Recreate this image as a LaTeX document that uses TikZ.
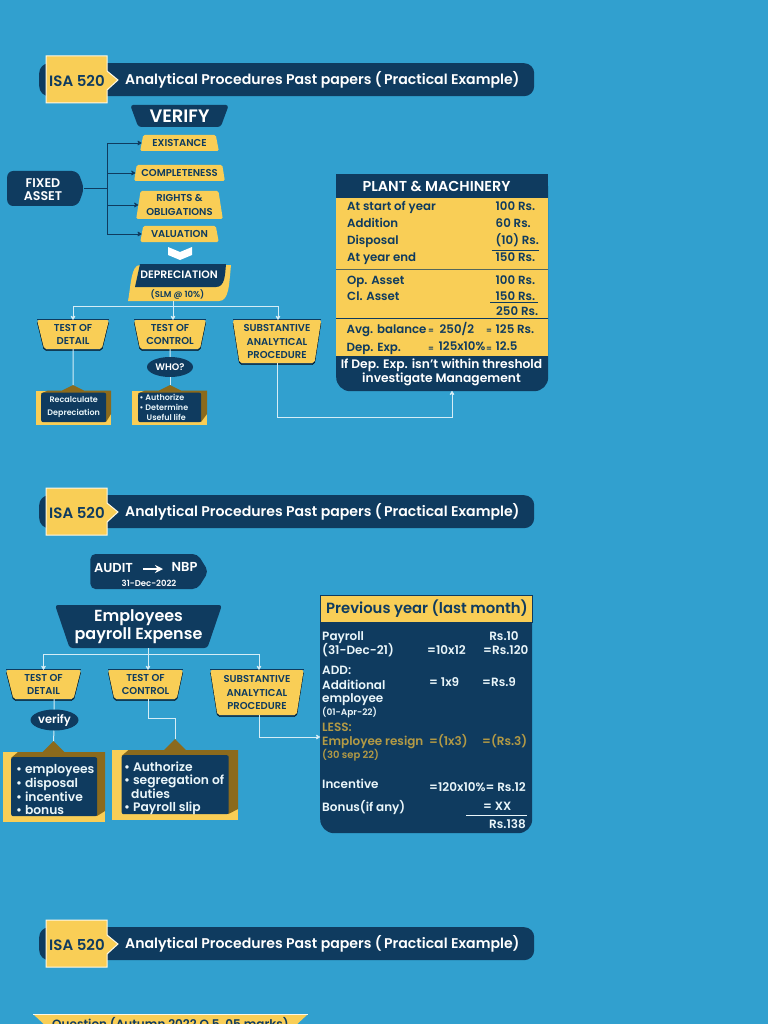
\documentclass[tikz,border=0pt]{standalone}
\usepackage{fontspec}
\setmainfont{Poppins}[BoldFont=* SemiBold]
\usetikzlibrary{arrows.meta, positioning, shapes.geometric, shapes.symbols, shadows}
\definecolor{sky}{HTML}{31A0CF}
\definecolor{navy}{HTML}{0F3B5F}
\definecolor{gold}{HTML}{F9CE56}
\definecolor{umber}{HTML}{8B6A1C}
\definecolor{pale}{HTML}{D5EDF6}
\definecolor{dimgold}{HTML}{B39A45}
\newcommand*{\fsize}[1]{\bfseries\fontsize{#1}{#1}\selectfont}
\newcommand*{\fline}[2]{\bfseries\fontsize{#1}{#2}\selectfont}
% name, yellow box x1 y1 x2 y2, inset x y, tab x, tab apex y
\newcommand*{\notebox}[9]{
  \fill[gold] (#2,#3) rectangle (#4,#5);
  \fill[umber] ({#2+#6+7},#3) -- ({#8-11},#3) -- (#8,#9) -- ({#8+11},#3) -- (#4,#3)
    -- (#4,{#5-11}) -- ({#4-#6},{#5-#7}) -- ({#2+#6},{#3+#7}) -- cycle;
  \node[panel={(#4-#2-2*#6)*1pt}{(#5-#3-#7-#7+1)*1pt}, fill=navy, rounded corners=2pt] (#1) at ({#2+#6},{#3+#7-1}) {};
  \coordinate (#1tab) at (#8,#9);
}
\newcommand*{\isabanner}[2]{
  \node[panel={495pt}{33pt}, fill=navy, rounded corners=10pt] (#1bar) at (39,#2) {};
  \draw[draw=white!85!gold, line width=1pt, fill=gold] (46,{#2-7}) -- (107,{#2-7}) -- (107,{#2+8})
    -- (118,{#2+17}) -- (107,{#2+27}) -- (107,{#2+40}) -- (46,{#2+40}) -- cycle;
  \node[font=\fsize{15}, text=navy, inner sep=0] (#1isa) at (77,{#2+18}) {ISA 520};
  \node[font=\fsize{14.1}, text=white, inner sep=0, anchor=west] (#1title) at (125,{#2+17})
    {Analytical Procedures Past papers (\,Practical Example)};
}
\tikzset{
  panel/.style 2 args={anchor=north west, inner sep=0, minimum width=#1, minimum height=#2},
  tapbox/.style={shape=trapezium, trapezium stretches=true, inner sep=0, align=center},
  itembox/.style={tapbox, fill=gold, text=navy, trapezium angle=72, rounded corners=1.5pt,
    minimum height=16pt, font=\fline{10}{14}},
  testbox/.style={tapbox, fill=gold, text=navy, shape border rotate=180, trapezium angle=77,
    rounded corners=2pt, draw=none, font=\fline{10}{13.5},
    copy shadow={fill=navy, shadow xshift=0pt, shadow yshift=-1.5pt},
    append after command={(\tikzlastnode.bottom left corner) edge[navyline, line width=1.2pt] (\tikzlastnode.bottom right corner)}},
  navyhead/.style={tapbox, fill=navy, text=white, shape border rotate=180, rounded corners=3pt},
  oval/.style={ellipse, fill=navy, text=white, inner sep=0},
  navyline/.style={draw=navy, line width=.8pt},
  paleline/.style={draw=pale, line width=1pt},
  cell/.style={anchor=west, inner sep=0, yshift=-2pt, text=navy, text height=8pt, text depth=2.5pt, font=\fsize{11.8}},
  inkcell/.style={anchor=west, inner sep=0, yshift=-2pt, text=pale!50!white, text height=8pt, text depth=2.5pt, font=\fsize{12}},
  note/.style={anchor=west, inner sep=0, text=pale!50!white, align=left},
  rule/.style={draw=navy, line width=.8pt},
  inkrule/.style={draw=pale!50!white, line width=.8pt},
  tip/.style={-{Stealth[round, length=5pt, width=6pt]}}
}
\begin{document}
\begin{tikzpicture}[x=1pt, y=-1pt]
  \useasboundingbox (0,0) rectangle (768,1024);
  \clip (0,0) rectangle (768,1024);
  \fill[sky] (0,0) rectangle (768,1024);

  %% first part
  \isabanner{one}{63}
  \node[navyhead, trapezium angle=65, minimum width=99pt, minimum height=22pt, font=\fsize{18}] (verify) at (179.5,116) {VERIFY};
  \node[signal, signal to=east, signal pointer angle=140, fill=navy, inner sep=0, rounded corners=6pt,
    minimum width=77pt, minimum height=35pt] (fixed) at (42.5,188.5) {};
  \node[text=white, inner sep=0, align=center, font=\fline{12.6}{13}] (fixedtext) at (43,189.5) {FIXED\\ASSET};
  \node[itembox, minimum width=79pt] (existance) at (179.5,143) {EXISTANCE};
  \node[itembox, minimum width=91pt] (complete) at (179.5,173) {COMPLETENESS};
  \node[itembox, minimum width=87pt, minimum height=28pt, trapezium angle=80] (rights) at (179.5,205) {RIGHTS \&\\OBLIGATIONS};
  \node[itembox, minimum width=79pt] (valuation) at (179.5,234) {VALUATION};
  \coordinate (trunk) at (107,188.5);
  \draw[navyline] (fixed.east) -- (trunk);
  \draw[navyline, tip] (trunk) |- (existance.west);
  \draw[navyline, tip] (trunk) |- (complete.west);
  \draw[navyline, tip] (trunk) |- (rights.west);
  \draw[navyline, tip] (trunk) |- (valuation.west);
  \fill[white] (168,247) -- (180,252) -- (192,247) -- (192,255) -- (180,260) -- (168,255) -- cycle;

  \fill[gold] (128,301) .. controls (131,285) and (131,265) .. (140,265) -- (231,265)
    .. controls (229,285) and (229,301) .. (219,301) -- cycle;
  \fill[navy] (140,264) -- (226,264) .. controls (225,275) and (225,287) .. (216,287) -- (135,287) -- cycle;
  \node[text=white, inner sep=0, font=\fsize{10.8}] (deprec) at (179,275) {DEPRECIATION};
  \node[text=navy, inner sep=0, font=\fsize{8.5}] (slm) at (177.5,294) {(SLM @ 10\%)};
  \coordinate (depfoot) at (173,301);
  \coordinate (deprail) at (173,306);

  \node[testbox, minimum width=72pt, minimum height=29pt] (detailA) at (73,334.5) {TEST OF\\DETAIL};
  \node[testbox, minimum width=72pt, minimum height=29pt] (controlA) at (170,334.5) {TEST OF\\CONTROL};
  \node[testbox, minimum width=89pt, minimum height=43pt, trapezium angle=80] (substA) at (277,341.5) {SUBSTANTIVE\\ANALYTICAL\\PROCEDURE};
  \node[oval, minimum width=46pt, minimum height=20pt, font=\fsize{9.5}] (who) at (170,367) {WHO?};
  \notebox{recalc}{36}{390.5}{111}{425}{5}{3}{73}{385}
  \notebox{author}{132}{390.5}{207}{425}{6}{3}{170}{385}
  \node[note, align=center, anchor=center, font=\fline{8}{13}] (recalctext) at (recalc.center) {Recalculate\\Depreciation};
  \node[note, font=\fline{8}{9.8}] (authortext) at (139.5,407.5) {• Authorize\\• Determine\\\hspace*{7pt}Useful life};

  \draw[paleline] (depfoot) -- (deprail);
  \draw[paleline, tip] (deprail) -| (detailA.north);
  \draw[paleline, tip] (deprail) -- (deprail |- controlA.north);
  \draw[paleline, tip] (deprail) -| (substA.north -| 278,0);
  \draw[paleline] (detailA) -- (recalctab);
  \draw[paleline] (controlA) -- (who);
  \draw[paleline] (who) -- (authortab);

  % plant table
  \node[panel={212pt}{217pt}, fill=navy, rounded corners=14pt] (plant) at (336,174) {};
  \fill[navy] (336,174) rectangle (548,198);
  \fill[gold] (336,198) rectangle (548,356);
  \node[text=white, inner sep=0, font=\fsize{14.4}] (planttitle) at (436.5,186) {PLANT \& MACHINERY};
  \foreach \i/\y/\lab/\val in {1/206/At start of year/100 Rs., 2/223/Addition/60 Rs., 3/240/Disposal/(10) Rs., 4/257/At year end/150 Rs., 5/279.5/Op. Asset/100 Rs., 6/296/Cl. Asset/150 Rs.}{
    \node[cell] (plab\i) at (347,\y) {\lab};
    \node[cell] (pval\i) at (495.5,\y) {\val};
  }
  \node[cell] (pval7) at (496,311) {250 Rs.};
  \draw[rule] (491.5,250.5) -- (539,250.5);
  \draw[rule] (490,302.5) -- (537.5,302.5);
  \draw[navy!70!gold, line width=1pt] (336,269) -- (548,269);
  \draw[navy, line width=1pt] (336,318.5) -- (548,318.5);
  \node[cell] (avg) at (346.5,328.5) {Avg. balance};
  \node[cell] (half) at (439.5,328.5) {250/2};
  \node[cell] (avgval) at (495.5,328.5) {125 Rs.};
  \node[cell] (depexp) at (346.5,346.5) {Dep. Exp.};
  \node[cell] (rate) at (438.5,346) {125x10\%};
  \node[cell] (depval) at (495.5,346) {12.5};
  \foreach \i/\x/\y in {1/428/329, 2/486/329, 3/428/346.5, 4/486/346.5}{
    \node[cell, font=\fsize{8}] (equal\i) at (\x,\y) {=};
  }
  \node[text=white, inner sep=0, align=center, font=\fline{12.3}{12.5}] (plantnote) at (441.5,372) {If Dep. Exp. isn't within threshold\\investigate Management};
  \coordinate (plantfoot) at (452,391);
  \coordinate (plantbend) at (452,417);
  \draw[paleline, tip] (substA.south) |- (plantbend) -- (plantfoot);

  %% second part
  \isabanner{two}{495}
  \node[signal, signal to=east, signal pointer angle=116, fill=navy, inner sep=0, rounded corners=5pt,
    minimum width=118pt, minimum height=35pt] (audit) at (144,571.5) {};
  \node[text=white, inner sep=0, font=\fsize{13}] (auditname) at (113.5,568) {AUDIT};
  \node[text=white, inner sep=0, font=\fsize{13}] (nbp) at (184.5,567) {NBP};
  \node[text=white, inner sep=0, font=\fsize{8.5}] (auditdate) at (149,583) {31-Dec-2022};
  \draw[white, line width=2pt, -{Stealth[length=8pt, width=8pt]}] (auditname.east) ++(10,1) -- (163,569);
  \node[navyhead, trapezium angle=68, minimum width=167pt, minimum height=43pt, font=\fline{16}{17.5}] (payroll) at (138.5,626.5) {Employees\\payroll Expense};
  \coordinate (payfoot) at (148,648);
  \coordinate (payrail) at (148,654);
  \node[testbox, minimum width=75pt, minimum height=29pt] (detailB) at (43.5,684.5) {TEST OF\\DETAIL};
  \node[testbox, minimum width=75pt, minimum height=29pt] (controlB) at (145.5,684.5) {TEST OF\\CONTROL};
  \node[testbox, minimum width=94pt, minimum height=45pt, trapezium angle=80] (substB) at (257,692.5) {SUBSTANTIVE\\ANALYTICAL\\PROCEDURE};
  \node[oval, minimum width=48pt, minimum height=21pt, font=\fsize{11.5}] (verifyB) at (54.5,720) {verify};
  \notebox{people}{3}{752}{105}{822}{8}{6}{53.5}{741}
  \notebox{duties}{112}{750}{238}{820}{9.5}{6}{175}{739}
  \node[note, font=\fline{12.3}{12.6}] (peopletext) at (16,789.5) {• employees\\• disposal\\• incentive\\• bonus};
  \node[note, font=\fline{12.3}{13}] (dutiestext) at (124,788) {• Authorize\\• segregation of\\\hspace*{7pt}duties\\• Payroll slip};
  \draw[paleline] (payfoot) -- (payrail);
  \draw[paleline, tip] (payrail) -| (detailB.north);
  \draw[paleline, tip] (payrail) -- (payrail |- controlB.north);
  \draw[paleline, tip] (payrail) -| (substB.north -| 259,0);
  \draw[paleline] (detailB.south -| 54,0) -- (verifyB);
  \draw[paleline] (verifyB) -- (peopletab);
  \coordinate (dutiesbend) at (148,718);
  \draw[paleline] (controlB.south -| dutiesbend) -- (dutiesbend) -| (dutiestab);

  % previous year table
  \node[panel={212pt}{238pt}, fill=navy, rounded corners=14pt] (prev) at (320,595) {};
  \fill[navy] (320,595) rectangle (532,620);
  \node[panel={212pt}{27pt}, fill=gold, draw=navy, line width=.6pt] (prevhead) at (320,595) {};
  \node[text=navy, inner sep=0, font=\fsize{14.8}] (prevtitle) at (427,609) {Previous year (last month)};
  \coordinate (prevbend) at (259,737);
  \draw[paleline, tip] (substB.south -| prevbend) |- (prev.west |- prevbend);
  \foreach \i/\y/\lab in {1/636/Payroll, 2/650/(31-Dec-21), 3/670/ADD:, 4/685/Additional, 5/698/employee, 6/784/Incentive, 7/807/Bonus(if any)}{
    \node[inkcell] (row\i) at (322,\y) {\lab};
  }
  \node[inkcell, font=\fsize{9}] (row8) at (322,711) {(01-Apr-22)};
  \node[inkcell, anchor=center] (rsten) at (504,636) {Rs.10};
  \node[inkcell] (mult1) at (427,649.5) {=10x12};
  \node[inkcell] (rs120) at (483,649.5) {=Rs.120};
  \node[inkcell] (mult2) at (429,682) {= 1x9};
  \node[inkcell] (rsnine) at (482,682) {=Rs.9};
  \foreach \i/\x/\y/\lab in {1/322/727/LESS:, 2/322/741/Employee resign, 3/429/741/=(1x3), 4/482/741/=(Rs.3)}{
    \node[inkcell, text=dimgold] (less\i) at (\x,\y) {\lab};
  }
  \node[inkcell, text=dimgold, font=\fsize{10}] (less5) at (322,754) {(30 sep 22)};
  \node[inkcell] (incent) at (429,787) {=120x10\%= Rs.12};
  \node[inkcell] (bonus) at (483,806) {= XX};
  \draw[inkrule] (466,815) -- (527,815);
  \node[inkcell, anchor=east] (total) at (526,824) {Rs.138};

  %% third part
  \isabanner{three}{927}
  \fill[gold] (33,1014) -- (308,1014) -- (280,1040) -- (61,1040) -- cycle;
  \draw[white!85!gold, line width=1pt] (33,1014) -- (308,1014);
  \node[text=navy, inner sep=0, font=\fsize{12}] (question) at (170.5,1024.5) {Question (Autumn 2022 Q 5, 05 marks)};
\end{tikzpicture}
\end{document}
